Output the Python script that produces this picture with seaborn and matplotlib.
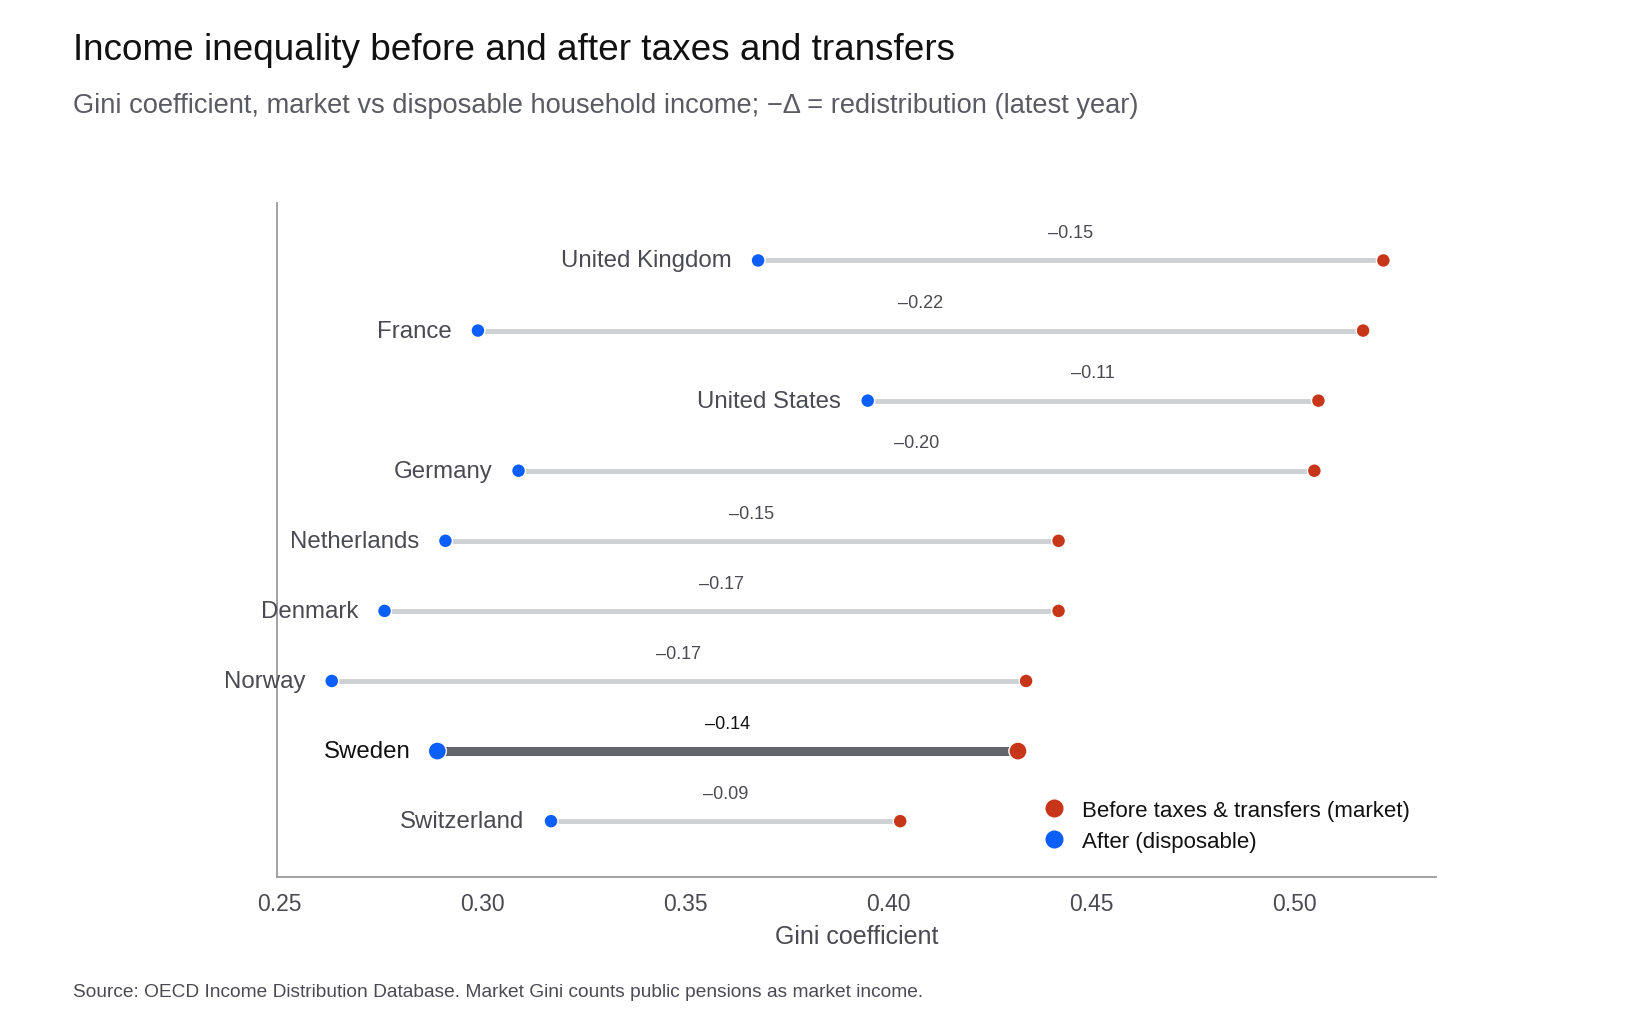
import matplotlib
matplotlib.use("Agg")
import matplotlib.pyplot as plt
import seaborn as sns
import pandas as pd
from matplotlib.lines import Line2D

countries = ["United Kingdom", "France", "United States", "Germany", "Netherlands",
             "Denmark", "Norway", "Sweden", "Switzerland"]
market = [0.522, 0.517, 0.506, 0.505, 0.442, 0.442, 0.434, 0.432, 0.403]
disposable = [0.368, 0.299, 0.395, 0.309, 0.291, 0.276, 0.263, 0.289, 0.317]
highlight = "Sweden"
xticks = [0.25, 0.30, 0.35, 0.40, 0.45, 0.50]

RED = "#c8361a"
BLUE = "#0d5ffb"
GRAY_LINE = "#cdd1d4"
DARK_LINE = "#63656d"
TXT = "#4a4a52"

sns.set_theme(style="white")
plt.rcParams["font.family"] = ["Liberation Sans", "DejaVu Sans"]

df = pd.DataFrame({"country": countries, "market": market, "disposable": disposable})
df["pos"] = range(len(df))
long = df.melt(id_vars=["country", "pos"], value_vars=["market", "disposable"],
               var_name="kind", value_name="gini")

fig = plt.figure(figsize=(16.32, 10.2), dpi=100)
ax = fig.add_axes([0.1697, 0.139, 0.7103, 0.661])

for _, r in df.iterrows():
    hl = r["country"] == highlight
    ax.hlines(r["pos"], r["disposable"], r["market"],
              color=DARK_LINE if hl else GRAY_LINE, lw=6.5 if hl else 3.5, zorder=1)

normal = long[long["country"] != highlight]
hi = long[long["country"] == highlight]
pal = {"market": RED, "disposable": BLUE}
sns.scatterplot(data=normal, x="gini", y="pos", hue="kind", palette=pal, s=100,
                edgecolor="white", linewidth=1, legend=False, ax=ax, zorder=3)
sns.scatterplot(data=hi, x="gini", y="pos", hue="kind", palette=pal, s=170,
                edgecolor="white", linewidth=1, legend=False, ax=ax, zorder=3)

for _, r in df.iterrows():
    hl = r["country"] == highlight
    ax.annotate(r["country"], (r["disposable"], r["pos"]), xytext=(-19, 0),
                textcoords="offset points", ha="right", va="center", fontsize=17.3,
                color="#111111" if hl else TXT, zorder=4)
    d = r["market"] - r["disposable"]
    ax.annotate(f"\u2013{d:.2f}", ((r["market"] + r["disposable"]) / 2, r["pos"]),
                xytext=(0, 20), textcoords="offset points", ha="center", va="center",
                fontsize=13, color="#111111" if hl else TXT, zorder=4)

ax.set_xlim(0.2495, 0.535)
ax.set_ylim(len(df) - 1 + 0.80, -0.82)
ax.set_xticks(xticks)
ax.set_xticklabels([f"{t:.2f}" for t in xticks])
ax.set_yticks([])
ax.set_ylabel("")
ax.set_xlabel("Gini coefficient", fontsize=18, color=TXT, labelpad=6)
ax.tick_params(axis="x", labelsize=16.5, colors=TXT, length=5, width=1, color="#9a9a9f", pad=6)
for s in ["top", "right"]:
    ax.spines[s].set_visible(False)
for s in ["left", "bottom"]:
    ax.spines[s].set_color("#9a9a9f")
    ax.spines[s].set_linewidth(1.3)

handles = [
    Line2D([], [], marker="o", linestyle="", markersize=14, markerfacecolor=RED,
           markeredgecolor="white", label="Before taxes & transfers (market)"),
    Line2D([], [], marker="o", linestyle="", markersize=14, markerfacecolor=BLUE,
           markeredgecolor="white", label="After (disposable)"),
]
leg = ax.legend(handles=handles, loc="lower right", bbox_to_anchor=(0.995, 0.008),
                frameon=False, fontsize=16, handletextpad=0.3, labelspacing=0.45)
for t in leg.get_texts():
    t.set_color("#111111")

fig.text(0.0447, 0.950, "Income inequality before and after taxes and transfers",
         fontsize=26.6, color="#111111", ha="left", va="center")
fig.text(0.0447, 0.896,
         "Gini coefficient, market vs disposable household income; \u2212\u0394 = redistribution (latest year)",
         fontsize=19.6, color="#5a5a62", ha="left", va="center")
fig.text(0.0447, 0.027,
         "Source: OECD Income Distribution Database. Market Gini counts public pensions as market income.",
         fontsize=13.8, color="#4a4a52", ha="left", va="center")

fig.savefig("out.png", dpi=100)
